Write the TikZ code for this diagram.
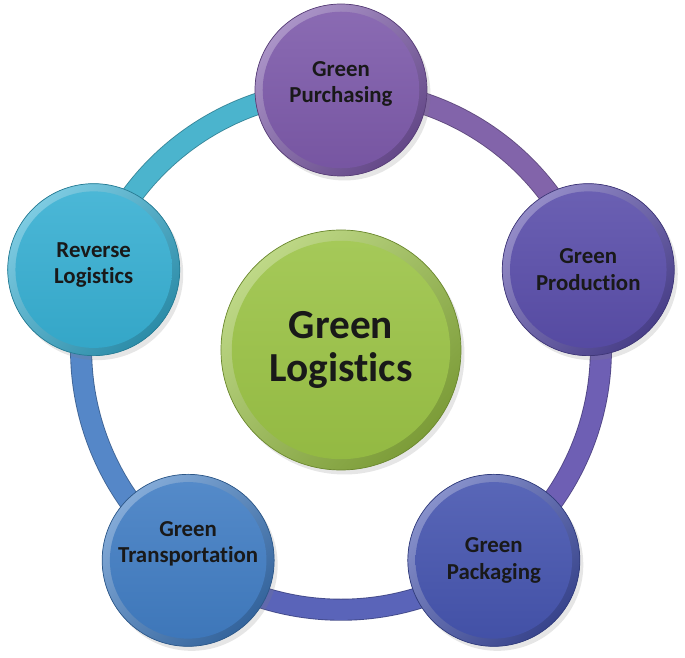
\documentclass[tikz,border=0pt]{standalone}
\usepackage{fontspec}
\setmainfont[RawFeature=-liga]{Carlito}
\usepackage{tikz}
\usetikzlibrary{shadows, backgrounds}
\usepackage{xcolor}

\definecolor{hubC}{HTML}{9BC346}
\definecolor{purchC}{HTML}{7D5AAA}
\definecolor{prodC}{HTML}{5A4EAA}
\definecolor{packC}{HTML}{4655AF}
\definecolor{transC}{HTML}{417DC3}
\definecolor{revC}{HTML}{37AFD2}
\definecolor{ringA}{HTML}{4BB4CD}
\definecolor{ringB}{HTML}{8264AA}
\definecolor{ringC}{HTML}{6E5FB4}
\definecolor{ringD}{HTML}{5A64B9}
\definecolor{ringE}{HTML}{5587C8}

\begin{document}
\begin{tikzpicture}[
    bead/.style 2 args={circle, minimum size=#2, inner sep=0pt, fill=#1, draw=#1!70!black, line width=0.4pt,
        drop shadow={opacity=0.2, shadow xshift=0.7mm, shadow yshift=-0.9mm},
        path picture={
            \shade[top color=#1!65!white, bottom color=#1!80!black, shading angle=45]
                (path picture bounding box.south west) rectangle (path picture bounding box.north east);
            \shade[top color=#1!90!white, bottom color=#1!95!black]
                (path picture bounding box.center) circle ({0.455*#2});
        }},
    tag/.style={align=center, text=black!90, font=\bfseries\fontsize{13}{15}\selectfont},
    band/.style={draw=#1!75!black, line width=0.5pt, double=#1, double distance=11.5pt}]
    \useasboundingbox (-6.82,-6.16) rectangle (6.88,7.0);
    % hub
    \node[bead={hubC}{4.8cm}, label={[tag, font=\bfseries\fontsize{23.5}{24.5}\selectfont]center:Green\\Logistics}] (hub) at (0,0) {};
    % the five steps on the ring
    \node[bead={purchC}{3.44cm}, label={[tag, yshift=1.2mm]center:Green\\Purchasing}] (purch) at (90:5.2) {};
    \node[bead={prodC}{3.44cm}, label={[tag]center:Green\\Production}] (prod) at (18:5.2) {};
    \node[bead={packC}{3.44cm}, label={[tag]center:Green\\Packaging}] (pack) at (-54:5.2) {};
    \node[bead={transC}{3.44cm}, label={[tag, yshift=3.3mm]center:Green\\Transportation}] (trans) at (234:5.2) {};
    \node[bead={revC}{3.44cm}, label={[tag, yshift=0.9mm]center:Reverse\\Logistics}] (rev) at (162:5.2) {};
    \begin{scope}[on background layer]
        \draw[band=ringA] (rev.center) to[bend left=36, looseness=0.94] (purch.center);
        \draw[band=ringB] (purch.center) to[bend left=36, looseness=0.94] (prod.center);
        \draw[band=ringC] (prod.center) to[bend left=36, looseness=0.94] (pack.center);
        \draw[band=ringD] (pack.center) to[bend left=36, looseness=0.94] (trans.center);
        \draw[band=ringE] (trans.center) to[bend left=36, looseness=0.94] (rev.center);
    \end{scope}
\end{tikzpicture}
\end{document}
